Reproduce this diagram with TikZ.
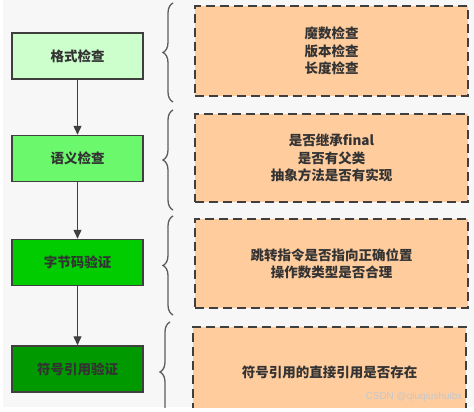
\documentclass[tikz,border=0pt]{standalone}
\usepackage{fontspec}
\newfontfamily\cjk{Noto Sans CJK SC}
\usetikzlibrary{arrows.meta,decorations.pathreplacing}
\definecolor{bg}{HTML}{F7F7F7}
\definecolor{edge}{HTML}{3F3F3F}
\definecolor{txt}{HTML}{333333}
\definecolor{gA}{HTML}{CCFFCC}
\definecolor{gB}{HTML}{6CF86C}
\definecolor{gC}{HTML}{00CC00}
\definecolor{gD}{HTML}{009A00}
\definecolor{peach}{HTML}{FFCC9E}
\tikzset{
  flowbox/.style={draw=edge,line width=1.5pt,minimum width=131pt,minimum height=46pt,inner sep=0pt,
    font=\cjk\bfseries\fontsize{13.5pt}{17pt}\selectfont,text=txt},
  notebox/.style={draw=edge,line width=1.8pt,dash pattern=on 9pt off 5pt,fill=peach,inner sep=0pt,
    align=center,font=\cjk\bfseries\fontsize{13.5pt}{17.3pt}\selectfont,text=txt},
  flowarrow/.style={draw=edge,line width=1.2pt,-{Triangle[length=9pt,width=8pt]}},
  curly/.style={draw=edge!85,line width=1.3pt,decorate,decoration={brace,amplitude=10pt,aspect=0.5}}
}
\begin{document}
\begin{tikzpicture}[x=1pt,y=-1pt]
\useasboundingbox (0,0) rectangle (474,412);
\fill[white] (0,0) rectangle (474,412);
\fill[bg] (3,0) rectangle (474,407);
\begin{scope}
\clip (3,0) rectangle (474,407);
% flow boxes
\node[flowbox,fill=gA] (f1) at (77.5,56) {格式检查};
\node[flowbox,fill=gB] (f2) at (77.5,158.5) {语义检查};
\node[flowbox,fill=gC] (f3) at (77.5,262.5) {字节码验证};
\node[flowbox,fill=gD] (f4) at (77.5,369) {符号引用验证};
\draw[flowarrow] (f1.south) -- (f2.north);
\draw[flowarrow] (f2.south) -- (f3.north);
\draw[flowarrow] (f3.south) -- (f4.north);
% note boxes
\node[notebox,minimum width=273pt,minimum height=90pt] (d1) at (331.5,51) {魔数检查\\版本检查\\长度检查};
\node[notebox,minimum width=273pt,minimum height=88pt] (d2) at (331.5,158) {是否继承final\\是否有父类\\抽象方法是否有实现};
\node[notebox,minimum width=273pt,minimum height=89pt] (d3) at (331.5,263.5) {跳转指令是否指向正确位置\\操作数类型是否合理};
\node[notebox,minimum width=273pt,minimum height=92pt,anchor=north] (d4) at (329.5,326) {};
\node[font=\cjk\bfseries\fontsize{13.5pt}{17pt}\selectfont,text=txt] (t4) at (329.5,372) {符号引用的直接引用是否存在};
% braces
\draw[curly] (173,102) -- (173,3);
\draw[curly] (173,210) -- (173,110);
\draw[curly] (173,315) -- (173,216);
\draw[curly] (170,422) -- (170,322);
\node[font=\fontspec{Liberation Sans}\fontsize{10pt}{12pt}\selectfont,text=black!22,anchor=east] (wm) at (466,397) {CSDN @qiuqiushuibx};
\end{scope}
\end{tikzpicture}
\end{document}
